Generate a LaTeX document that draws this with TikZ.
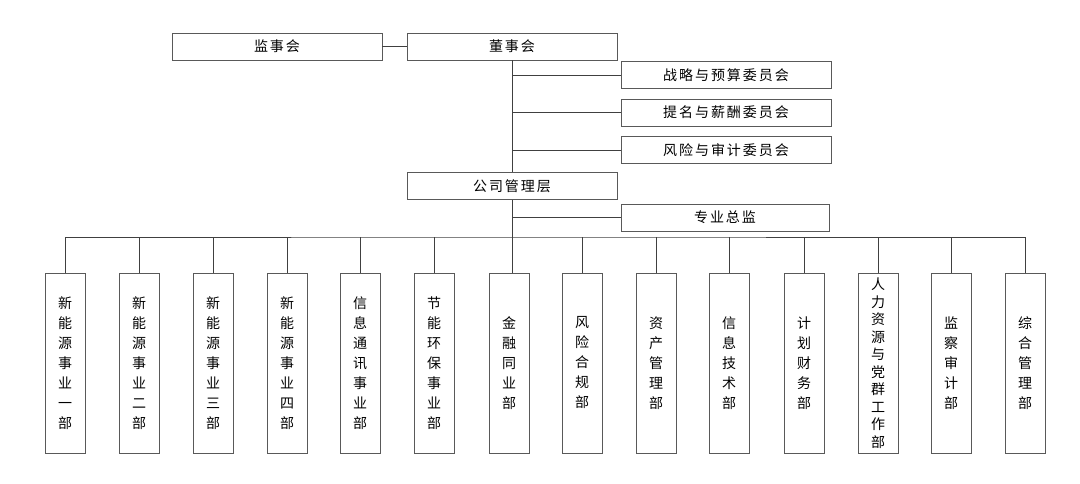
\documentclass[tikz,border=0pt]{standalone}
\usepackage{fontspec}
\newfontfamily\cjk{Noto Sans CJK SC}
\newfontfamily\cjkw[LetterSpace=14]{Noto Sans CJK SC}
\usepackage{tikz}

\tikzset{
  hbox/.style={draw=black!65,line width=0.9pt,minimum width=210pt,minimum height=27pt,
    inner sep=0pt,font=\cjkw\fontsize{14}{14}\selectfont},
  vbox/.style={draw=black!65,line width=0.9pt,minimum width=40pt,minimum height=180pt,
    inner sep=0pt,align=center,font=\cjk\fontsize{14}{20}\selectfont},
  link/.style={draw=black!75,line width=0.8pt}
}

\begin{document}
\begin{tikzpicture}[x=1pt,y=-1pt]
    \useasboundingbox (0,0) rectangle (1080,484);
    %% Board level
    \node[hbox] (jsh) at (277,46.5) {监事会};
    \node[hbox] (dsh) at (512,46.5) {董事会};
    \node[hbox] (c1) at (726,75) {战略与预算委员会};
    \node[hbox] (c2) at (726,112.5) {提名与薪酬委员会};
    \node[hbox] (c3) at (726,150) {风险与审计委员会};
    \node[hbox] (glc) at (512,186) {公司管理层};
    \node[hbox,minimum width=208pt] (zj) at (725,217.5) {专业总监};
    %% Departments
    \node[vbox] (d1) at (65,363) {新\\能\\源\\事\\业\\一\\部};
    \node[vbox] (d2) at (139,363) {新\\能\\源\\事\\业\\二\\部};
    \node[vbox] (d3) at (213,363) {新\\能\\源\\事\\业\\三\\部};
    \node[vbox] (d4) at (287,363) {新\\能\\源\\事\\业\\四\\部};
    \node[vbox] (d5) at (360,363) {信\\息\\通\\讯\\事\\业\\部};
    \node[vbox] (d6) at (434,363) {节\\能\\环\\保\\事\\业\\部};
    \node[vbox] (d7) at (509,363) {金\\融\\同\\业\\部};
    \node[vbox] (d8) at (582,363) {风\\险\\合\\规\\部};
    \node[vbox] (d9) at (656,363) {资\\产\\管\\理\\部};
    \node[vbox] (d10) at (729,363) {信\\息\\技\\术\\部};
    \node[vbox] (d11) at (804,363) {计\\划\\财\\务\\部};
    \node[vbox,font=\cjk\fontsize{14}{17.5}\selectfont] (d12) at (878,363)
      {人\\力\\资\\源\\与\\党\\群\\工\\作\\部};
    \node[vbox] (d13) at (951,363) {监\\察\\审\\计\\部};
    \node[vbox] (d14) at (1025,363) {综\\合\\管\\理\\部};
    \coordinate (bus) at (512,237);
    %% Top links
    \draw[link] (jsh) -- (dsh);
    \draw[link] (dsh.south) -- (glc.north);
    \draw[link] (dsh.south |- c1.west) -- (c1.west);
    \draw[link] (dsh.south |- c2.west) -- (c2.west);
    \draw[link] (dsh.south |- c3.west) -- (c3.west);
    \draw[link] (glc.south |- zj.west) -- (zj.west);
    %% Bus to departments
    \draw[link] (glc.south) -- (glc.south |- d7.north);
    \draw[link] (d1.north) |- (bus) -| (d14.north);
    \draw[link] (d2.north) -- (d2.north |- bus);
    \draw[link] (d3.north) -- (d3.north |- bus);
    \draw[link] (d4.north) -- (d4.north |- bus);
    \draw[link] (d5.north) -- (d5.north |- bus);
    \draw[link] (d6.north) -- (d6.north |- bus);
    \draw[link] (d8.north) -- (d8.north |- bus);
    \draw[link] (d9.north) -- (d9.north |- bus);
    \draw[link] (d10.north) -- (d10.north |- bus);
    \draw[link] (d11.north) -- (d11.north |- bus);
    \draw[link] (d12.north) -- (d12.north |- bus);
    \draw[link] (d13.north) -- (d13.north |- bus);
  \end{tikzpicture}
\end{document}
